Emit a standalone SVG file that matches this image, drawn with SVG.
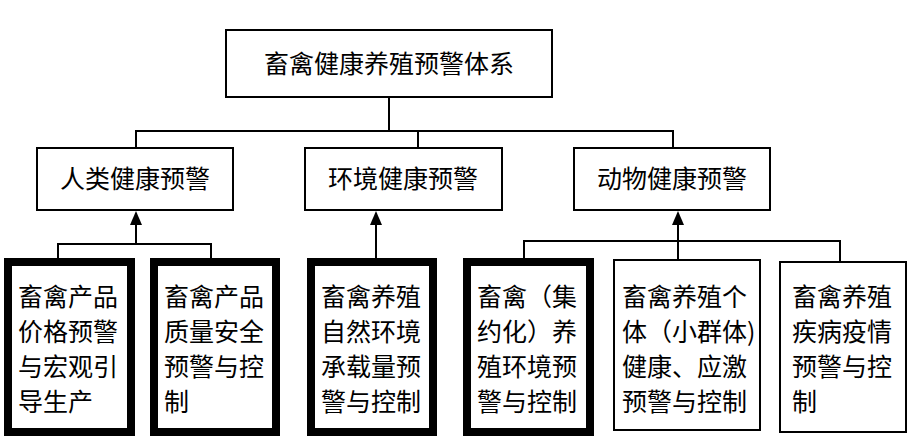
<svg xmlns="http://www.w3.org/2000/svg" width="911" height="442" viewBox="0 0 911 442">
<style>
.b{fill:#fff;stroke:#000;stroke-width:2}
.k{fill:#fff;stroke:#000;stroke-width:8}
.t{font-family:"Noto Sans CJK SC","Liberation Serif",serif;font-size:25px;fill:#000}
.s{font-family:"Noto Sans CJK SC","Liberation Serif",serif;font-size:25px;fill:#000}
.c{fill:none;stroke:#000;stroke-width:2}
.h{fill:#000}
</style>
<rect width="911" height="442" fill="#fff"/>
<g id="connectors">
<path class="c" d="M389,97V131M136,148V131H673V148M418,131V148"/>
<path class="c" d="M58,258V244H211V258M136,244V220"/>
<path class="c" d="M376,258V220"/>
<path class="c" d="M524,258V241H840V262M678,260V220"/>
<path class="h" d="M130,225L136,211L142,225Z"/>
<path class="h" d="M370,225L376,211L382,225Z"/>
<path class="h" d="M672,225L678,211L684,225Z"/>
</g>
<g id="root"><rect class="b" x="226" y="30" width="326" height="67"/><text class="t" x="389" y="73" text-anchor="middle">畜禽健康养殖预警体系</text></g>
<g id="human"><rect class="b" x="37" y="148" width="196" height="62"/><text class="t" x="135" y="188" text-anchor="middle">人类健康预警</text></g>
<g id="env"><rect class="b" x="305" y="148" width="197" height="62"/><text class="t" x="403" y="188" text-anchor="middle">环境健康预警</text></g>
<g id="animal"><rect class="b" x="574" y="148" width="196" height="62"/><text class="t" x="672" y="188" text-anchor="middle">动物健康预警</text></g>
<g id="n1"><rect class="k" x="8" y="262" width="123" height="170"/><text class="s" x="18"><tspan x="18" y="306">畜禽产品</tspan><tspan x="18" y="341">价格预警</tspan><tspan x="18" y="376">与宏观引</tspan><tspan x="18" y="411">导生产</tspan></text></g>
<g id="n2"><rect class="k" x="154" y="262" width="122" height="170"/><text class="s" x="164"><tspan x="164" y="306">畜禽产品</tspan><tspan x="164" y="341">质量安全</tspan><tspan x="164" y="376">预警与控</tspan><tspan x="164" y="411">制</tspan></text></g>
<g id="n3"><rect class="k" x="311" y="262" width="122" height="170"/><text class="s" x="321"><tspan x="321" y="306">畜禽养殖</tspan><tspan x="321" y="341">自然环境</tspan><tspan x="321" y="376">承载量预</tspan><tspan x="321" y="411">警与控制</tspan></text></g>
<g id="n4"><rect class="k" x="467" y="262" width="123" height="170"/><text class="s" x="477"><tspan x="477" y="306">畜禽（集</tspan><tspan x="477" y="341">约化）养</tspan><tspan x="477" y="376">殖环境预</tspan><tspan x="477" y="411">警与控制</tspan></text></g>
<g id="n5"><rect class="b" x="614" y="260" width="146" height="170"/><text class="s" x="622"><tspan x="622" y="306">畜禽养殖个</tspan><tspan x="622" y="341">体（小群体)</tspan><tspan x="622" y="376">健康、应激</tspan><tspan x="622" y="411">预警与控制</tspan></text></g>
<g id="n6"><rect class="b" x="780" y="262" width="126" height="170"/><text class="s" x="792"><tspan x="792" y="306">畜禽养殖</tspan><tspan x="792" y="341">疾病疫情</tspan><tspan x="792" y="376">预警与控</tspan><tspan x="792" y="411">制</tspan></text></g>
</svg>
